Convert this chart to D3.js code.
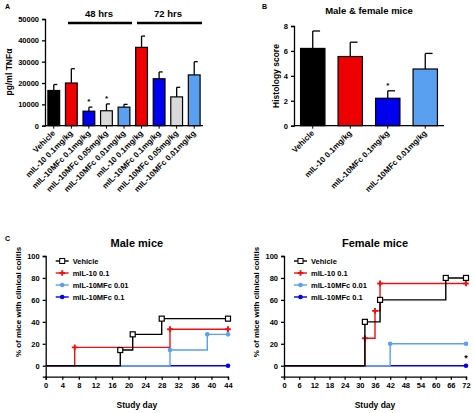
<!DOCTYPE html><html><head><script src="https://cdn.jsdelivr.net/npm/d3@7"></script>
<style>body{margin:0;background:#fff}text{font-family:Arial,"Liberation Sans",sans-serif;font-weight:bold}</style></head><body>
<svg id="c" width="474" height="413"></svg>
<script>
const aCats=["Vehicle","mIL-10 0.1mg/kg","mIL-10MFc 0.1mg/kg","mIL-10MFc 0.05mg/kg","mIL-10MFc 0.01mg/kg","mIL-10 0.1mg/kg","mIL-10MFc 0.1mg/kg","mIL-10MFc 0.05mg/kg","mIL-10MFc 0.01mg/kg"];
const aVals=[16500,20000,6800,7000,8700,36700,22000,13500,23800];
const aErr=[19300,26700,8700,10200,10000,42000,25200,18000,30000];
const aStar=[0,0,1,1,0,0,0,0,0];
const aCol=["#000","#ee0000","#0000ee","#d9d9d9","#5aa0f0","#ee0000","#0000ee","#d9d9d9","#5aa0f0"];
const aTicks=[0,10000,20000,30000,40000,50000];
const bCats=["Vehicle","mIL-10 0.1mg/kg","mIL-10MFc 0.1mg/kg","mIL-10MFc 0.01mg/kg"];
const bVals=[6.2,5.55,2.2,4.55];
const bErr=[7.6,6.7,2.8,5.8];
const bStar=[0,0,1,0];
const bCol=["#000","#ee0000","#0000ee","#5aa0f0"];
const series=["Vehicle","mIL-10 0.1","mIL-10MFc 0.01","mIL-10MFc 0.1"];
const sCol=["#000","#ee1111","#5aa0f0","#0000ee"];
const maleSteps=[[[18,14.3],[21,28.6],[28,42.9]],[[7,16.7],[30,33.3]],[[30,14.3],[39,28.6]],[]];
const femaleSteps=[[[32,40],[38,60],[64,80]],[[32,25],[36,50],[38,75]],[[42,20]],[]];
const maleTicks=d3.range(0,45,4), femaleTicks=d3.range(0,73,6), pctTicks=[0,20,40,60,80,100];

const svg=d3.select("#c");
function txt(g,x,y,s,size,anchor,rot){const t=g.append("text").attr("x",x).attr("y",y).text(s).attr("font-size",size).attr("text-anchor",anchor||"middle");if(rot)t.attr("transform",`rotate(${rot},${x},${y})`);return t;}
function styleAxis(g){g.selectAll("path,line").attr("stroke","#000").attr("stroke-width",1.3);g.selectAll("text").attr("font-size",7.5).attr("font-weight","bold");}

function barPanel(cats,vals,err,star,col,x0,x1,y0,y1,ymax,ticks,pad){
  const x=d3.scaleBand().domain(d3.range(cats.length)).range([x0,x1]).paddingInner(pad).paddingOuter(pad/2);
  const y=d3.scaleLinear().domain([0,ymax]).range([y0,y1]);
  const g=svg.append("g");
  vals.forEach((v,i)=>{
    const cx=x(i)+x.bandwidth()/2;
    g.append("line").attr("x1",cx).attr("x2",cx).attr("y1",y(v)).attr("y2",y(err[i])).attr("stroke","#000").attr("stroke-width",1.3);
    g.append("line").attr("x1",cx).attr("x2",cx+x.bandwidth()*0.3).attr("y1",y(err[i])).attr("y2",y(err[i])).attr("stroke","#000").attr("stroke-width",1.3);
    g.append("rect").attr("x",x(i)).attr("width",x.bandwidth()).attr("y",y(v)).attr("height",y(0)-y(v)).attr("fill",col[i]).attr("stroke","#000").attr("stroke-width",1.2);
    if(star[i]) txt(g,cx,y(err[i])-3,"*",8);
    g.append("line").attr("x1",cx).attr("x2",cx).attr("y1",y0).attr("y2",y0+3).attr("stroke","#000");
    txt(g,cx+2,y0+8,cats[i],8,"end",-45);
  });
  const ya=g.append("g").attr("transform",`translate(${x0},0)`).call(d3.axisLeft(y).tickValues(ticks).tickSize(3).tickFormat(d3.format("d")));
  styleAxis(ya);
  g.append("line").attr("x1",x0).attr("x2",x1).attr("y1",y0).attr("y2",y0).attr("stroke","#000").attr("stroke-width",1.3);
  return x;
}
txt(svg,5,9,"A",7,"start");
barPanel(aCats,aVals,aErr,aStar,aCol,45,203,125.7,19,50000,aTicks,0.33);
svg.append("line").attr("x1",68).attr("x2",132).attr("y1",23).attr("y2",23).attr("stroke","#000").attr("stroke-width",2.5);
svg.append("line").attr("x1",137).attr("x2",202).attr("y1",23).attr("y2",23).attr("stroke","#000").attr("stroke-width",2.5);
txt(svg,99,17,"48 hrs",9.5);txt(svg,168,17,"72 hrs",9.5);
txt(svg,12,72,"pg/ml TNFα",8.5,"middle",-90);
txt(svg,262,9,"B",7,"start");
barPanel(bCats,bVals,bErr,bStar,bCol,294,444,125.7,26,8,[0,2,4,6,8],0.35);
txt(svg,369,14,"Male & female mice",9.5);
txt(svg,279,76,"Histology score",8.5,"middle",-90);

txt(svg,5,241,"C",7,"start");
function kmPanel(steps,xmax,ticks,x0,x1,title,starLast){
  const x=d3.scaleLinear().domain([0,xmax]).range([x0,x1]);
  const y=d3.scaleLinear().domain([-10,100]).range([376.7,256]);
  const g=svg.append("g");
  const ya=g.append("g").attr("transform",`translate(${x0},0)`).call(d3.axisLeft(y).tickValues(pctTicks).tickSize(3));
  styleAxis(ya);
  const xa=g.append("g").attr("transform",`translate(0,${y(-10)})`).call(d3.axisBottom(x).tickValues(ticks).tickSize(3));
  styleAxis(xa);
  txt(g,(x0+x1)/2,247,title,11);
  txt(g,(x0+x1)/2,408,"Study day",8.5);
  txt(g,x0-25,302,"% of mice with clinical colitis",8,"middle",-90);
  [3,2,1,0].forEach(si=>{
    const ev=steps[si];const pts=[[0,0]];let cur=0;
    ev.forEach(([d,v])=>{pts.push([d,cur]);pts.push([d,v]);cur=v;});
    pts.push([xmax,cur]);
    g.append("path").attr("d",d3.line().x(d=>x(d[0])).y(d=>y(d[1]))(pts)).attr("fill","none").attr("stroke",sCol[si]).attr("stroke-width",1.4);
    const marks=ev.map(e=>e.slice()).concat([[xmax,cur]]);
    marks.forEach(([d,v])=>{
      if(si===0) g.append("rect").attr("x",x(d)-2.5).attr("y",y(v)-2.5).attr("width",5).attr("height",5).attr("fill","#fff").attr("stroke","#000").attr("stroke-width",1.2);
      else if(si===1) g.append("path").attr("transform",`translate(${x(d)},${y(v)})`).attr("d",d3.symbol(d3.symbolCross,18)()).attr("fill",sCol[si]);
      else g.append("circle").attr("cx",x(d)).attr("cy",y(v)).attr("r",2.3).attr("fill",sCol[si]);
    });
    if(si===3&&starLast) txt(g,x(xmax),y(cur)-5,"*",9);
  });
  series.forEach((s,i)=>{
    const ly=261+i*12,lx=x0+10;
    g.append("line").attr("x1",lx).attr("x2",lx+13).attr("y1",ly).attr("y2",ly).attr("stroke",sCol[i]).attr("stroke-width",1.4);
    if(i===0) g.append("rect").attr("x",lx+4).attr("y",ly-2.5).attr("width",5).attr("height",5).attr("fill","#fff").attr("stroke","#000");
    else if(i===1) g.append("path").attr("transform",`translate(${lx+6.5},${ly})`).attr("d",d3.symbol(d3.symbolCross,18)()).attr("fill",sCol[i]);
    else g.append("circle").attr("cx",lx+6.5).attr("cy",ly).attr("r",2.3).attr("fill",sCol[i]);
    txt(g,lx+17,ly+3,s,7.5,"start");
  });
}
kmPanel(maleSteps,44,maleTicks,45.7,228,"Male mice",false);
kmPanel(femaleSteps,72,femaleTicks,284,466,"Female mice",true);
</script></body></html>
